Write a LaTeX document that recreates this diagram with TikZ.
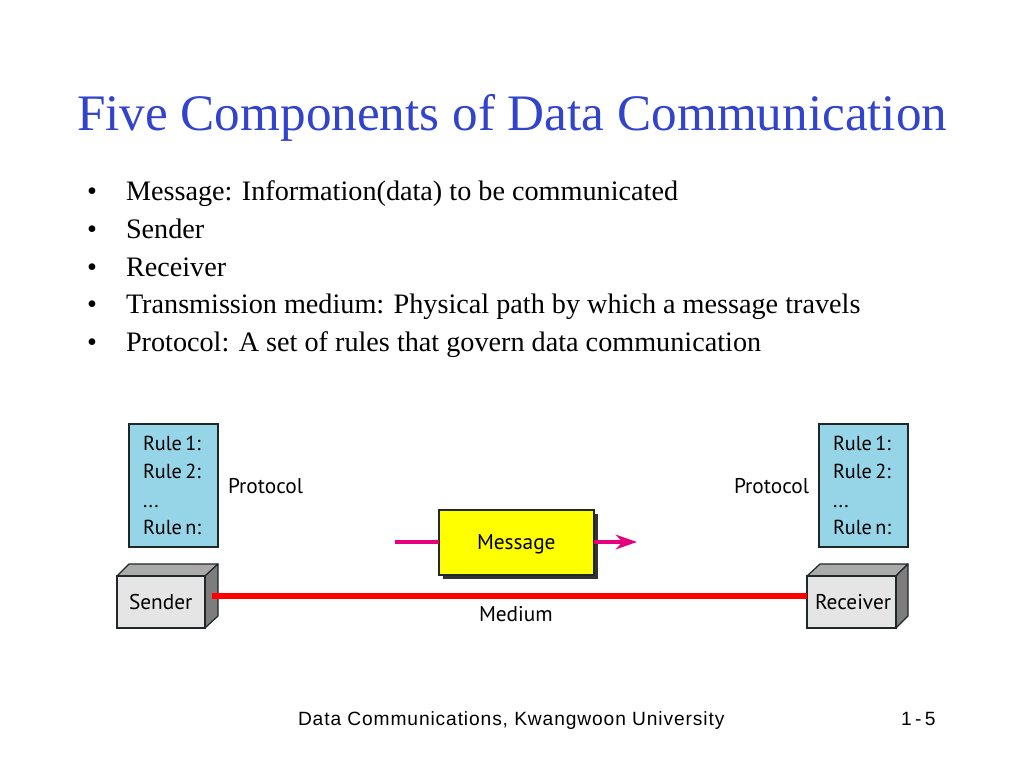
\documentclass[tikz,border=0pt]{standalone}
\usepackage{fontspec}
\setmainfont{Liberation Serif}
\newfontfamily\diagfont{PT Sans}
\newfontfamily\footfont[LetterSpace=4.6]{Liberation Sans}
\newfontfamily\pagefont[LetterSpace=18]{Liberation Sans}
\newcommand{\ruleline}[1]{\diagfont\fontsize{15.2}{18}\selectfont\setlength{\spaceskip}{0.17em}#1}
\usetikzlibrary{arrows.meta}
\definecolor{titleblue}{RGB}{51,68,204}
\definecolor{rulefill}{RGB}{150,212,232}
\definecolor{frontgray}{RGB}{229,229,229}
\definecolor{topgray}{RGB}{170,170,170}
\definecolor{sidegray}{RGB}{125,125,125}
\definecolor{msgpink}{RGB}{230,0,126}
\definecolor{linedark}{RGB}{30,40,40}
\definecolor{msgyellow}{RGB}{255,255,0}
\definecolor{purered}{RGB}{255,0,0}
\tikzset{
  x=0.75pt,y=-0.75pt,
  txt/.style={anchor=base west,inner sep=0pt,outer sep=0pt},
  bodytxt/.style={txt,font=\fontsize{21.15}{24}\selectfont},
  diag/.style={txt,text=black,font=\diagfont\fontsize{16}{18}\selectfont},
  rulebox/.style={draw=linedark,fill=rulefill,line width=0.9pt},
  frontface/.style={draw=linedark,fill=frontgray,line width=0.9pt},
  topface/.style={draw=linedark,fill=topgray,line width=0.9pt,line join=round},
  sideface/.style={draw=linedark,fill=sidegray,line width=0.9pt,line join=round},
  medium/.style={draw=purered,line width=4.8pt},
  flow/.style={draw=msgpink,line width=2.4pt,-{Stealth[length=16pt,width=11pt]}},
  flowplain/.style={draw=msgpink,line width=2.4pt},
}
\begin{document}
\begin{tikzpicture}
\useasboundingbox (0,0) rectangle (1024,768);
\fill[white] (0,0) rectangle (1024,768);
\node[txt,text=titleblue,font=\fontsize{38.4}{44}\selectfont] (title) at (77,130) {Five Components of Data Communication};

\foreach \y/\n in {200/a,238/b,276/c,313/d,351/e}
  \node[bodytxt] (bul\n) at (87,\y) {•};
\node[bodytxt] (b1) at (126,200) {Message: Information(data) to be communicated};
\node[bodytxt] (b2) at (126,238) {Sender};
\node[bodytxt] (b3) at (126,276) {Receiver};
\node[bodytxt] (b4) at (126,313) {Transmission medium: Physical path by which a message travels};
\node[bodytxt] (b5) at (126,351) {Protocol: A set of rules that govern data communication};

% rule boxes
\draw[rulebox] (129,424) rectangle (218,547);
\draw[rulebox] (819,424) rectangle (908,547);
\node[txt] (l1) at (143,450) {\ruleline{Rule 1:}};
\node[txt] (l2) at (143,478) {\ruleline{Rule 2:}};
\node[txt] (l3) at (143,507) {\ruleline{...}};
\node[txt] (l4) at (143,534) {\ruleline{Rule n:}};
\node[txt] (r1) at (833,450) {\ruleline{Rule 1:}};
\node[txt] (r2) at (833,478) {\ruleline{Rule 2:}};
\node[txt] (r3) at (833,507) {\ruleline{...}};
\node[txt] (r4) at (833,534) {\ruleline{Rule n:}};
\node[diag] (pl) at (228,493) {Protocol};
\node[diag] (pr) at (734,493) {Protocol};

% sender
\draw[topface] (117,576) -- (129,564) -- (218,564) -- (205,576) -- cycle;
\draw[sideface] (205,576) -- (218,564) -- (218,616) -- (205,628) -- cycle;
\draw[frontface] (117,576) rectangle (205,628);
\node[diag] (sender) at (129,609) {Sender};
% receiver
\draw[topface] (807,576) -- (820,564) -- (908,564) -- (896,576) -- cycle;
\draw[sideface] (896,576) -- (908,564) -- (908,616) -- (896,628) -- cycle;
\draw[frontface] (807,576) rectangle (896,628);
\node[diag] (receiver) at (815,609) {Receiver};

% medium
\coordinate (ms) at (212,596);
\coordinate (mr) at (807,596);
\draw[medium] (ms) -- (mr);
\node[diag] (mediumlabel) at (479,621) {Medium};

% message
\fill[black!80] (443,514) rectangle (598,579);
\node[draw=linedark,fill=msgyellow,line width=0.9pt,minimum width=116.25pt,minimum height=48.75pt,inner sep=0pt,outer sep=0pt] (msg) at (516.5,542.5) {};
\node[diag] (msgtext) at (477,549) {Message};
\coordinate (fin) at (395,542);
\coordinate (fout) at (637,542);
\draw[flowplain] (fin) -- (msg.west |- fin);
\draw[flow] (msg.east |- fout) -- (fout);

% footer
\node[txt,font=\footfont\fontsize{14.4}{16}\selectfont] (foot) at (298,725) {Data Communications, Kwangwoon University};
\node[txt,font=\pagefont\fontsize{14.4}{16}\selectfont] (page) at (901,725) {1-5};
\end{tikzpicture}
\end{document}
